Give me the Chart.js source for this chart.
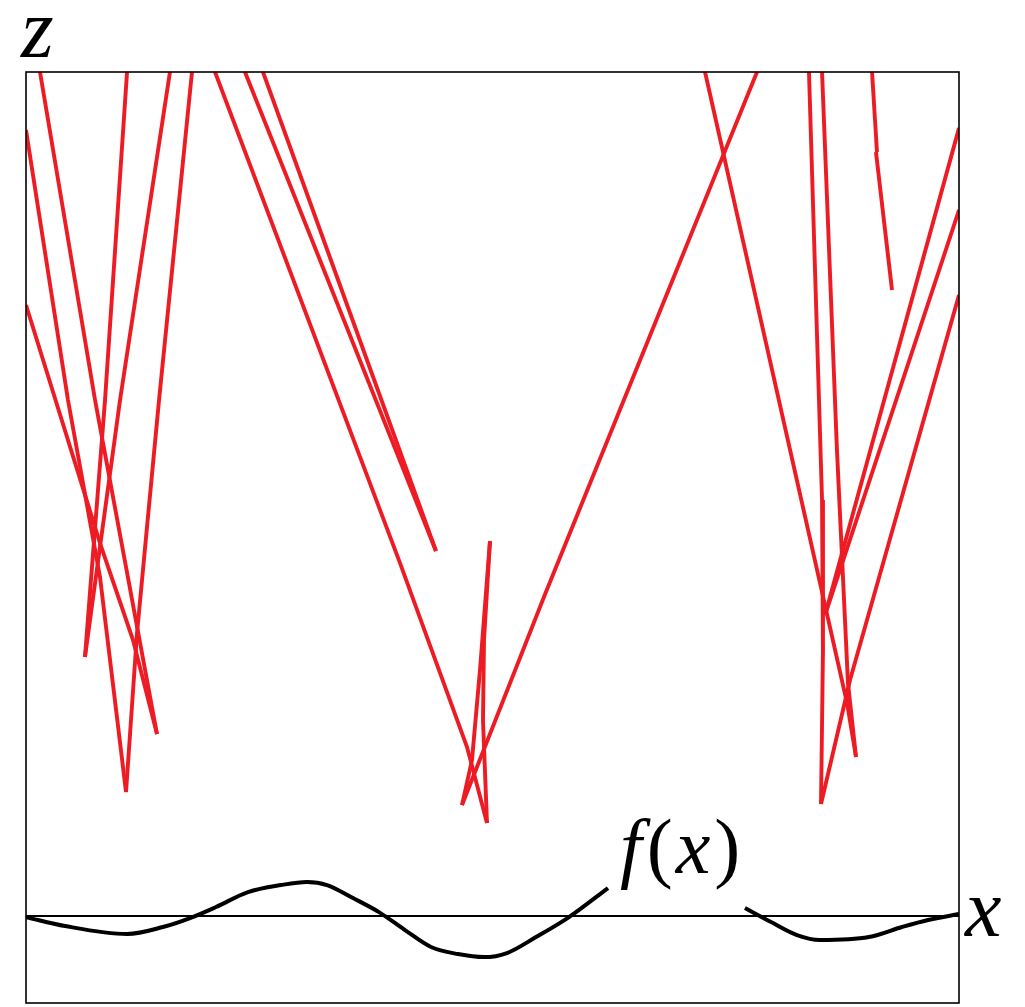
<!DOCTYPE html>
<html>
<head>
<meta charset="utf-8">
<title>Rays over f(x)</title>
<script src="https://cdn.jsdelivr.net/npm/chart.js@4.4.1/dist/chart.umd.min.js"></script>
<style>
  html, body { margin: 0; padding: 0; background: #ffffff; }
  #wrap { width: 1025px; height: 1007px; position: relative; }
</style>
</head>
<body>
<div id="wrap"><canvas id="chart"></canvas></div>
<script>
// --- Axis ranges (x across the box, z up the box) ---
const xRange = [0, 10];
const zRange = [-1.03, 10];

// --- Rays: each ray is a list of [x, z] points ---
const leftRays = [
  [[0, 9.313], [0.450, 6.114], [0.793, 4.017], [1.072, 1.469]],
  [[1.779, 10], [1.426, 6.114], [1.297, 4.609], [1.190, 3.353], [1.072, 1.469]],
  [[0, 7.239], [0.793, 4.419], [1.147, 3.270], [1.404, 2.156]],
  [[0.150, 10], [0.740, 6.114], [1.404, 2.156]],
  [[1.083, 10], [0.847, 6.114], [0.632, 3.069]],
  [[1.543, 10], [1.008, 6.114], [0.632, 3.069]]
];

const middleRays = [
  [[2.026, 10], [4.009, 4.182], [4.727, 2.002], [4.941, 1.102]],
  [[2.347, 10], [4.394, 4.325]],
  [[2.540, 10], [4.394, 4.325]],
  [[7.835, 10], [5.560, 3.803], [4.673, 1.315]],
  [[4.973, 4.443], [4.866, 2.915], [4.780, 1.848], [4.673, 1.315]],
  [[4.973, 4.443], [4.909, 3.270], [4.898, 2.322], [4.941, 1.102]]
];

const rightRays = [
  [[7.278, 10], [8.800, 2.524], [8.896, 1.884]],
  [[8.532, 10], [8.692, 5.521], [8.810, 2.761], [8.896, 1.884]],
  [[8.392, 10], [8.532, 4.929], [8.542, 3.152], [8.521, 1.327]],
  [[10, 7.358], [8.832, 2.796], [8.521, 1.327]],
  [[10, 9.336], [8.564, 3.566]],
  [[10, 8.365], [8.564, 3.566]],
  [[9.068, 10], [9.121, 9.052]],
  [[9.110, 9.052], [9.282, 7.417]]
];

// --- f(x), drawn in two pieces (gap under the label) ---
const curveLeftX = [0, 0.418, 1.083, 1.468, 1.758, 2.036, 2.379, 2.733, 3.012, 3.226,
                    3.505, 3.783, 4.062, 4.341, 4.630, 4.909, 5.155, 5.466, 5.820, 6.238];
const curveLeftZ = [-0.012, -0.118, -0.213, -0.130, -0.024, 0.107, 0.284, 0.367, 0.403, 0.367,
                    0.213, 0.047, -0.166, -0.367, -0.450, -0.486, -0.438, -0.249, -0.012, 0.332];
const curveRightX = [7.706, 7.985, 8.264, 8.510, 9.035, 9.389, 9.668, 10];
const curveRightZ = [0.095, -0.071, -0.225, -0.284, -0.249, -0.130, -0.047, 0.024];

// --- Labels ---
const axisLabels = { x: "x", z: "z" };
const curveLabel = { at: [6.367, 0.51], parts: ["f", "(", "x", ")"] };

const RED = "#ed1c24";
const SERIF = "'Liberation Serif'";

function toPoints(xs, zs) {
  return xs.map((x, i) => ({ x: x, y: zs[i] }));
}

function rayDataset(ray) {
  return {
    data: ray.map(p => ({ x: p[0], y: p[1] })),
    showLine: true,
    borderColor: RED,
    borderWidth: 3.9,
    pointRadius: 0,
    tension: 0,
    fill: false
  };
}

function curveDataset(xs, zs) {
  return {
    data: toPoints(xs, zs),
    showLine: true,
    borderColor: "#000000",
    borderWidth: 4,
    pointRadius: 0,
    cubicInterpolationMode: "monotone",
    fill: false
  };
}

// Box, zero line and the italic labels
const framePlugin = {
  id: "frame",
  afterDraw(chart) {
    const { ctx, chartArea: a, scales } = chart;
    const y0 = scales.y.getPixelForValue(0);
    ctx.save();
    ctx.strokeStyle = "#000000";
    ctx.lineWidth = 1.6;
    ctx.strokeRect(a.left, a.top, a.right - a.left, a.bottom - a.top);
    ctx.lineWidth = 2;
    ctx.beginPath();
    ctx.moveTo(a.left, y0);
    ctx.lineTo(a.right, y0);
    ctx.stroke();

    ctx.fillStyle = "#000000";
    ctx.textBaseline = "alphabetic";
    ctx.textAlign = "left";
    ctx.font = "italic 84px " + SERIF;
    ctx.fillText(axisLabels.z, a.left - 5, a.top - 15);
    ctx.font = "italic 82px " + SERIF;
    ctx.fillText(axisLabels.x, a.right + 6, y0 + 20);

    // f(x): letters italic, parentheses upright
    const gaps = { f: 5, "(": 3, x: 4, ")": 0 };
    let px = scales.x.getPixelForValue(curveLabel.at[0]);
    const py = scales.y.getPixelForValue(curveLabel.at[1]);
    curveLabel.parts.forEach(s => {
      const upright = s === "(" || s === ")";
      ctx.font = (upright ? "" : "italic ") + "78px " + SERIF;
      ctx.fillText(s, px, py);
      px += ctx.measureText(s).width + gaps[s];
    });
    ctx.restore();
  }
};

function drawChart() {
  const datasets = []
    .concat(leftRays.map(rayDataset))
    .concat(middleRays.map(rayDataset))
    .concat(rightRays.map(rayDataset))
    .concat([curveDataset(curveLeftX, curveLeftZ), curveDataset(curveRightX, curveRightZ)]);

  new Chart(document.getElementById("chart"), {
    type: "scatter",
    data: { datasets: datasets },
    options: {
      responsive: true,
      maintainAspectRatio: false,
      animation: false,
      layout: { padding: { left: 26, right: 66, top: 72, bottom: 4 } },
      plugins: { legend: { display: false }, tooltip: { enabled: false } },
      scales: {
        x: { type: "linear", min: xRange[0], max: xRange[1], display: false },
        y: { type: "linear", min: zRange[0], max: zRange[1], display: false }
      }
    },
    plugins: [framePlugin]
  });
}

// make sure the serif faces are loaded before the canvas draws text
Promise.all([
  document.fonts.load("italic 80px 'Liberation Serif'"),
  document.fonts.load("80px 'Liberation Serif'")
]).catch(() => {}).then(drawChart);
</script>
</body>
</html>
